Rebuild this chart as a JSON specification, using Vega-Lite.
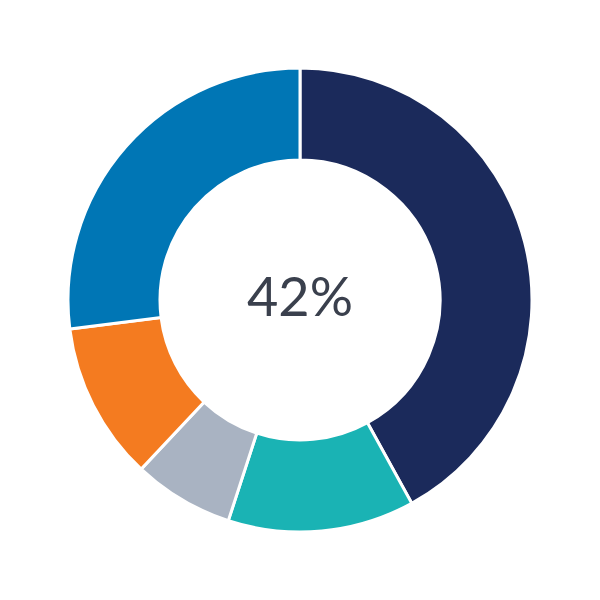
{
  "$schema": "https://vega.github.io/schema/vega-lite/v6.json",
  "width": 600,
  "height": 600,
  "autosize": {"type": "fit", "contains": "padding"},
  "padding": 0,
  "background": "white",
  "view": {"stroke": null},
  "layer": [
    {
      "data": {
        "values": [
          {"category": "A", "value": 42, "order": 1},
          {"category": "B", "value": 13, "order": 2},
          {"category": "C", "value": 7, "order": 3},
          {"category": "D", "value": 11, "order": 4},
          {"category": "E", "value": 27, "order": 5}
        ]
      },
      "mark": {"type": "arc", "outerRadius": 232, "innerRadius": 140, "stroke": "white", "strokeWidth": 3},
      "encoding": {
        "theta": {"field": "value", "type": "quantitative", "stack": true},
        "order": {"field": "order", "type": "quantitative"},
        "color": {
          "field": "category",
          "type": "nominal",
          "scale": {
            "domain": ["A", "B", "C", "D", "E"],
            "range": ["#1b2a5b", "#1ab3b4", "#a9b3c2", "#f47b20", "#0076b5"]
          },
          "legend": null
        }
      }
    },
    {
      "data": {"values": [{"label": "42%"}]},
      "mark": {"type": "text", "fontSize": 54, "font": "Lato", "fontWeight": 400, "color": "#3a404d", "align": "center", "baseline": "middle"},
      "encoding": {"text": {"field": "label", "type": "nominal"}}
    }
  ]
}
